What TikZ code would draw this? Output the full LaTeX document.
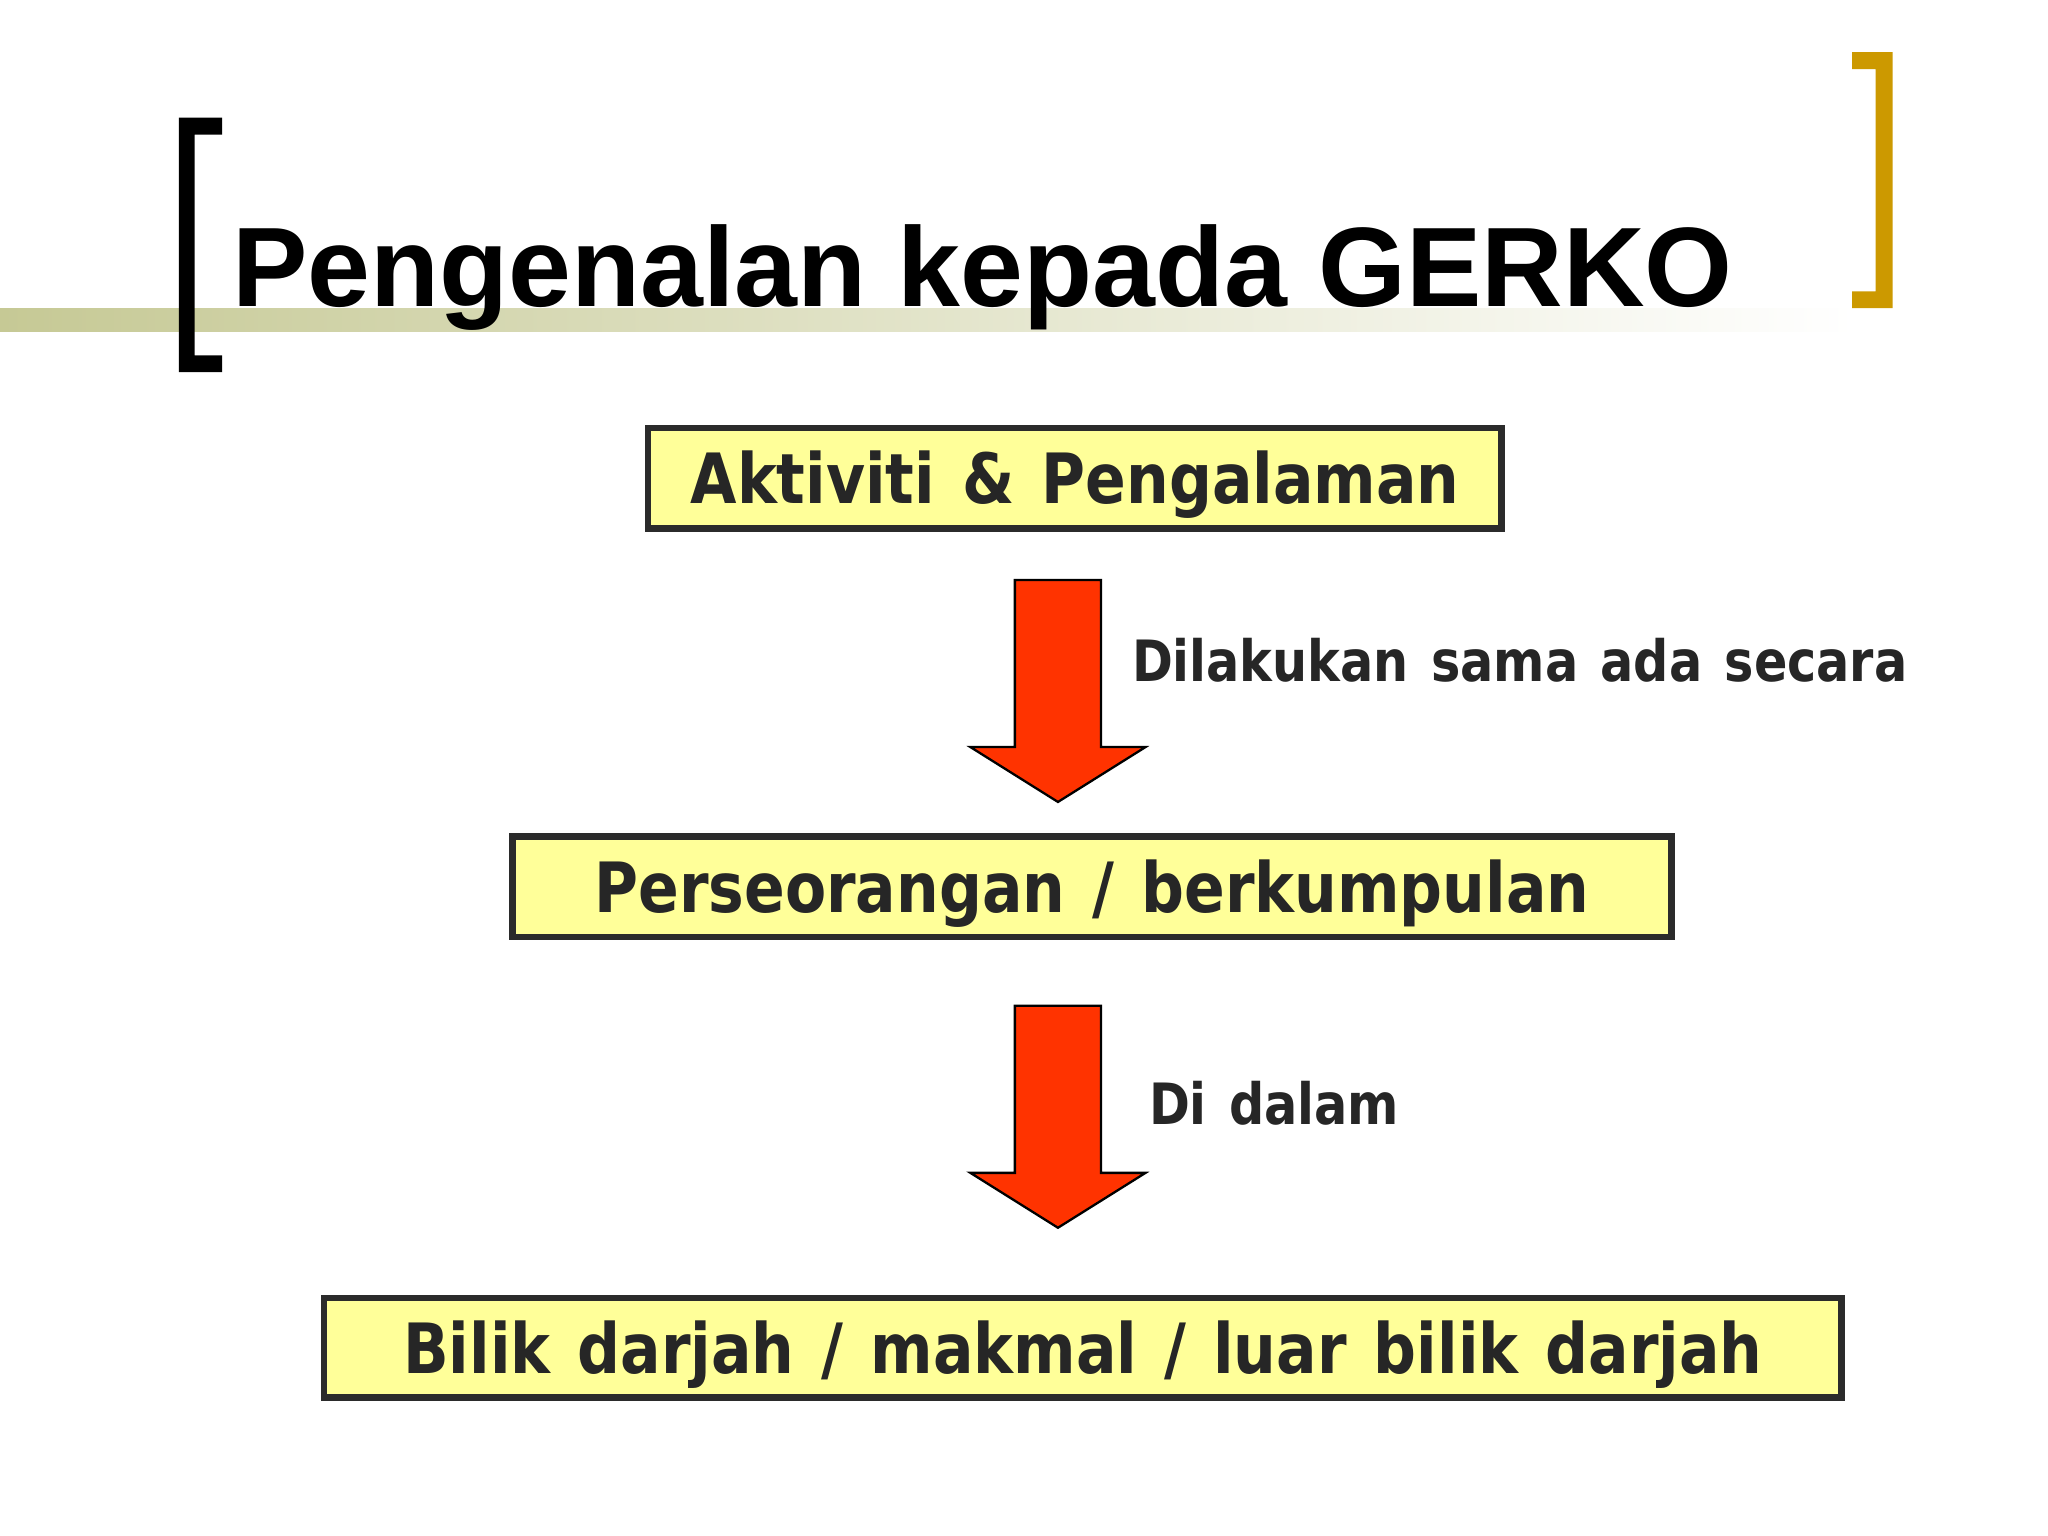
\documentclass[tikz,border=0pt]{standalone}
\usepackage{fontspec}
\setmainfont{Liberation Sans}
\newfontfamily\boxfont[FakeStretch=0.865,WordSpace=1.3]{DejaVu Sans}
\usepackage{tikz}
\usetikzlibrary{positioning}

\definecolor{boxfill}{HTML}{FFFF99}
\definecolor{boxline}{HTML}{2B2B2B}
\definecolor{inkgray}{HTML}{262626}
\definecolor{arrowred}{HTML}{FF3300}
\definecolor{bracketgold}{HTML}{CC9900}
\definecolor{barolive}{HTML}{C6C995}

\begin{document}
\begin{tikzpicture}[x=0.01cm,y=-0.01cm,
        stepbox/.style={draw=boxline,fill=boxfill,line width=1.4pt,inner sep=0pt,
            minimum height=0.77cm,text height=0.39cm,text depth=0pt,text=inkgray,
            font=\boxfont\bfseries\fontsize{15.1}{18}\selectfont},
        sidelabel/.style={anchor=base west,inner sep=0pt,text=inkgray,
            font=\boxfont\bfseries\fontsize{12.4}{15}\selectfont},
        bigarrow/.style={fill=arrowred,draw=black,line width=0.5pt,line join=miter}]
        \useasboundingbox (0,0) rectangle (1568,1176);
        \fill[white] (0,0) rectangle (1568,1176);

        % title band
        \shade[left color=barolive,right color=white] (0,236) rectangle (1420,254);
        \fill (137,90) -- (170,90) -- (170,103) -- (149,103) -- (149,272) -- (170,272) -- (170,285) -- (137,285) -- cycle;
        \fill[bracketgold] (1449,40) -- (1418,40) -- (1418,53) -- (1436,53) -- (1436,223) -- (1418,223) -- (1418,236) -- (1449,236) -- cycle;
        \node[anchor=base west,inner sep=0pt,font=\bfseries\fontsize{24.6}{28}\selectfont] (title) at (177,235) {Pengenalan kepada GERKO};

        \node[stepbox,minimum width=6.53cm] (akt) at (823,366) {Aktiviti \& Pengalaman};
        \node[stepbox,minimum width=8.87cm] (pers) at (836,679) {Perseorangan / berkumpulan};
        \node[stepbox,minimum width=11.61cm,minimum height=0.76cm] (bilik) at (829,1032) {Bilik darjah / makmal / luar bilik darjah};

        \coordinate (arr1) at (810,444);
        \coordinate (arr2) at (810,770);
        \foreach \a in {arr1,arr2}
            \filldraw[bigarrow] (\a) ++(-33,0) -- ++(66,0) -- ++(0,128) -- ++(34,0) -- ++(-67,42) -- ++(-67,-42) -- ++(34,0) -- cycle;

        \node[sidelabel] (how) at (866,522) {Dilakukan sama ada secara};
        \node[sidelabel] (where) at (879,861) {Di dalam};
    \end{tikzpicture}
\end{document}
